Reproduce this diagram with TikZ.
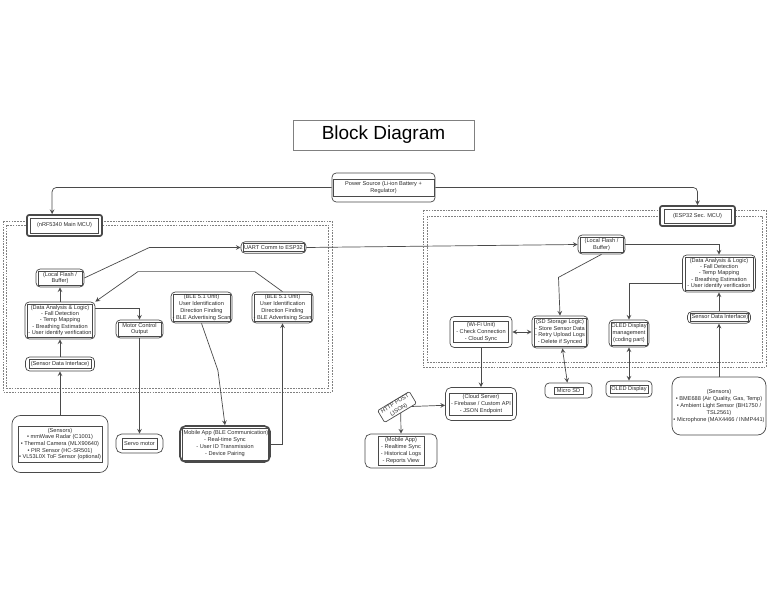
\documentclass[tikz,border=0pt]{standalone}
\usepackage{fontspec}
\setmainfont{Liberation Sans}
\usetikzlibrary{arrows}
\definecolor{linegray}{HTML}{4A4A4A}
\definecolor{textgray}{HTML}{2B2B2B}
\tikzset{inframe/.style 2 args={path picture={\draw[linegray, line width=0.4pt, sharp corners] ([shift={(#1,-#2)}]path picture bounding box.north west) rectangle ([shift={(-#1,#2)}]path picture bounding box.south east);}}}
\tikzstyle{plainbox} = [rectangle, rounded corners=3pt, draw=linegray, line width=0.5pt, fill=white, text=textgray, align=center, inner sep=1pt, font=\fontsize{4}{4.6}\selectfont]
\tikzstyle{block} = [plainbox, inframe={0.05cm}{0.05cm}]
\tikzstyle{mcu} = [block, line width=1.2pt, rounded corners=1.5pt]
\tikzstyle{tag} = [plainbox, rounded corners=1pt, inner sep=0.5pt]
\tikzstyle{titlebox} = [rectangle, draw=gray, line width=0.6pt, text=black, font=\fontsize{13.5}{16}\selectfont, minimum width=4.525cm, minimum height=0.75cm]
\tikzstyle{group} = [draw=gray, line width=0.4pt, dash pattern=on 1.2pt off 0.8pt]
\tikzstyle{arrow} = [->, >=stealth, line width=0.5pt, draw=linegray]
\tikzstyle{both} = [arrow, <->]

\begin{document}
\begin{tikzpicture}[node distance=2cm]
        \useasboundingbox (0,0) rectangle (19.2,-14.85);

        % MCU groups
        \draw [group] (0.075,-5.525) rectangle (8.3,-9.8);
        \draw [group] (0.15,-5.625) rectangle (8.2,-9.7);
        \draw [group] (10.575,-5.25) rectangle (19.15,-9.175);
        \draw [group] (10.675,-5.4) rectangle (19.05,-9.05);

        \node (title) [titlebox] at (9.5875,-3.375) {Block Diagram};
        \node (power) [block, inframe={0.03cm}{0.15cm}, minimum width=2.575cm, minimum height=0.725cm, font=\fontsize{4}{5.6}\selectfont, below of=title, yshift=0.6875cm] {Power Source (Li-ion Battery +\\Regulator)};

        % nRF5340 side
        \node (nrf) [mcu, inframe={0.09cm}{0.08cm}, minimum width=1.875cm, minimum height=0.525cm, left of=power, xshift=-5.975cm, yshift=-0.95cm] {(nRF5340 Main MCU)};
        \node (flashL) [block, minimum width=1.2cm, minimum height=0.45cm, below of=nrf, xshift=-0.1125cm, yshift=0.6875cm] {(Local Flash /\\Buffer)};
        \node (daL) [block, inframe={0.06cm}{0.05cm}, minimum width=1.75cm, minimum height=0.925cm, below of=flashL, yshift=0.9375cm] {(Data Analysis \& Logic)\\- Fall Detection\\- Temp Mapping\\- Breathing Estimation\\- User identify verification};
        \node (sdiL) [block, inframe={0.09cm}{0.06cm}, minimum width=1.725cm, minimum height=0.35cm, below of=daL, yshift=0.9125cm] {(Sensor Data Interface)};
        \node (sensL) [block, rounded corners=6pt, inframe={0.15cm}{0.26cm}, minimum width=2.4cm, minimum height=1.425cm, font=\fontsize{4}{4.7}\selectfont, below of=sdiL] {(Sensors)\\• mmWave Radar (C1001)\\• Thermal Camera (MLX90640)\\• PIR Sensor (HC-SR501)\\• VL53L0X ToF Sensor (optional)};
        \node (motor) [block, minimum width=1.175cm, minimum height=0.45cm, right of=daL, xshift=-0.0125cm, yshift=-0.2125cm] {Motor Control\\Output};
        \node (servo) [block, rounded corners=4pt, inframe={0.15cm}{0.1cm}, minimum width=1.175cm, minimum height=0.475cm, below of=motor, yshift=-0.8625cm] {Servo motor};
        \node (uart) [block, minimum width=1.625cm, minimum height=0.29cm, right of=flashL, xshift=3.3375cm, yshift=0.7625cm] {UART Comm to ESP32};
        \node (bleA) [block, minimum width=1.525cm, minimum height=0.775cm, font=\fontsize{4}{4.9}\selectfont, right of=motor, xshift=-0.45cm, yshift=0.5375cm] {(BLE 5.1 Unit)\\User Identification\\Direction Finding\\- BLE Advertising Scan};
        \node (bleB) [block, minimum width=1.525cm, minimum height=0.775cm, font=\fontsize{4}{4.9}\selectfont, right of=bleA, xshift=0.025cm] {(BLE 5.1 Unit)\\User Identification\\Direction Finding\\- BLE Advertising Scan};
        \node (mobB) [mcu, rounded corners=4pt, inframe={0.05cm}{0.05cm}, minimum width=2.25cm, minimum height=0.9cm, font=\fontsize{4}{5}\selectfont, below of=bleA, xshift=0.5875cm, yshift=-1.4125cm] {(Mobile App (BLE Communication)\\- Real-time Sync\\- User ID Transmission\\- Device Pairing};

        % ESP32 side
        \node (esp) [mcu, inframe={0.1cm}{0.075cm}, minimum width=1.875cm, minimum height=0.5cm, right of=power, xshift=5.85cm, yshift=-0.7125cm] {(ESP32 Sec. MCU)};
        \node (flashR) [block, minimum width=1.175cm, minimum height=0.475cm, left of=esp, xshift=-0.4cm, yshift=-0.7125cm] {(Local Flash /\\Buffer)};
        \node (daR) [block, inframe={0.06cm}{0.05cm}, minimum width=1.825cm, minimum height=0.925cm, below of=esp, xshift=0.5375cm, yshift=0.5625cm] {(Data Analysis \& Logic)\\- Fall Detection\\- Temp Mapping\\- Breathing Estimation\\- User identify verification};
        \node (sdiR) [block, inframe={0.06cm}{0.05cm}, minimum width=1.575cm, minimum height=0.29cm, below of=daR, yshift=0.9cm] {(Sensor Data Interface)};
        \node (sensR) [plainbox, rounded corners=6pt, minimum width=2.325cm, minimum height=1.45cm, font=\fontsize{4}{4.9}\selectfont, below of=sdiR, yshift=-0.2125cm] {(Sensors)\\• BME688 (Air Quality, Gas, Temp)\\• Ambient Light Sensor (BH1750 /\\TSL2561)\\• Microphone (MAX4466 / INMP441)};
        \node (sd) [block, minimum width=1.4cm, minimum height=0.8cm, font=\fontsize{4}{4.9}\selectfont, below of=flashR, xshift=-1.0375cm, yshift=-0.1875cm] {(SD Storage Logic)\\- Store Sensor Data\\- Retry Upload Logs\\- Delete if Synced};
        \node (wifi) [block, inframe={0.09cm}{0.12cm}, minimum width=1.55cm, minimum height=0.775cm, font=\fontsize{4}{5}\selectfont, left of=sd, xshift=0.025cm] {(Wi-Fi Unit)\\- Check Connection\\- Cloud Sync};
        \node (oledm) [block, minimum width=1.0cm, minimum height=0.675cm, font=\fontsize{4}{5}\selectfont, right of=sd, xshift=-0.275cm, yshift=-0.0375cm] {OLED Display\\management\\(coding part)};
        \node (oled) [block, inframe={0.1cm}{0.1cm}, minimum width=1.15cm, minimum height=0.4cm, below of=oledm, yshift=0.6125cm] {OLED Display};
        \node (micro) [block, inframe={0.22cm}{0.1cm}, minimum width=1.175cm, minimum height=0.375cm, below of=sd, xshift=0.2125cm, yshift=0.5375cm] {Micro SD};
        \node (cloud) [block, rounded corners=4pt, inframe={0.1cm}{0.14cm}, minimum width=1.775cm, minimum height=0.825cm, font=\fontsize{4}{5}\selectfont, below of=wifi, yshift=0.2cm] {(Cloud Server)\\- Firebase / Custom API\\- JSON Endpoint};
        \coordinate [left of=cloud, xshift=-0.1cm, yshift=-0.075cm] (httpat);
        \node (http) [tag, rotate=31, minimum width=0.925cm, minimum height=0.325cm, font=\fontsize{4}{5.2}\selectfont] at (httpat) {HTTP POST\\(JSON)};
        \node (mobR) [block, rounded corners=4pt, inframe={0.33cm}{0.06cm}, minimum width=1.8cm, minimum height=0.85cm, font=\fontsize{4}{5}\selectfont, below of=httpat, xshift=0.1cm, yshift=0.9cm] {(Mobile App)\\- Realtime Sync\\- Historical Logs\\- Reports View};

        % Arrows
        \draw [arrow, rounded corners=3pt] (power.west) -| ([xshift=-0.31cm]nrf.north);
        \draw [arrow, rounded corners=3pt] (power.east) -| (esp.north);
        \draw [arrow] (sensL) -- (sdiL);
        \draw [arrow] (sdiL) -- (daL);
        \draw [arrow] (daL) -- (flashL);
        \draw [arrow] (flashL.east) -- ++(1.625,0.7625) -- (uart.west);
        \draw [arrow] (uart.east) -- (flashR.west);
        \draw [arrow] ([yshift=0.31cm]daL.east) -| (motor.north);
        \draw [arrow] (motor) -- (servo);
        \draw [arrow] (bleB.north) -- ++(-0.69,0.5) -- ++(-2.925,0) -- (daL.north east);
        \draw [arrow] (bleA.south) -- ++(0.41,-1.175) -- (mobB.north);
        \draw [arrow] (mobB.east) -| (bleB.south);
        \draw [arrow] (flashR.east) -| (daR.north);
        \draw [arrow] (flashR.south) -- ++(-1.075,-0.575) -- (sd.north);
        \draw [arrow] ([yshift=-0.24cm]daR.west) -| (oledm.north);
        \draw [both] (oledm) -- (oled);
        \draw [both] (wifi) -- (sd);
        \draw [both] (sd) -- (micro);
        \draw [arrow] (sensR) -- (sdiR);
        \draw [arrow] (sdiR) -- (daR);
        \draw [arrow] (wifi) -- (cloud);
        \draw [arrow] (http) -- (cloud);
        \draw [arrow] (http.south) -- (mobR.north);

\end{tikzpicture}
\end{document}
